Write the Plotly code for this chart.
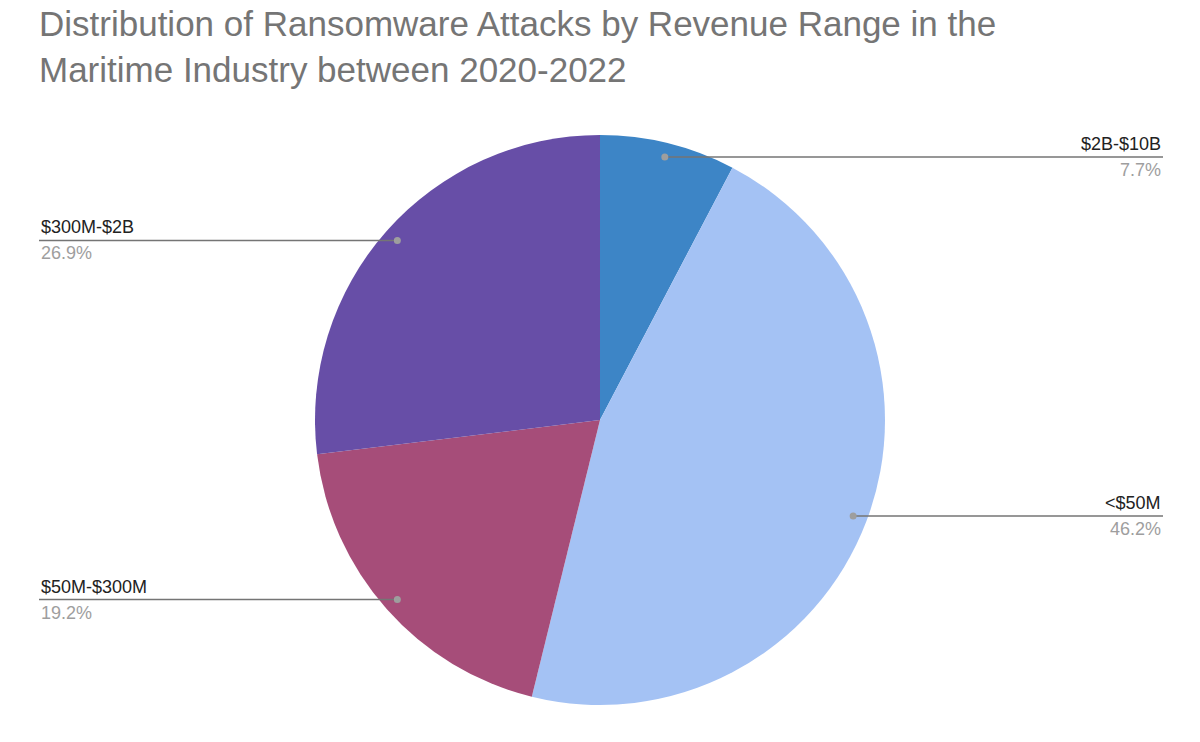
import numpy as np
import plotly.graph_objects as go

labels = ["$2B-$10B", "<$50M", "$50M-$300M", "$300M-$2B"]
values = [2, 12, 5, 7]
colors = ["#3d85c6", "#a4c2f4", "#a64d79", "#674ea7"]

W, H = 1200, 742
cx, cy, R = 592, 412, 285  # pie centre / radius in px (render offsets corrected)

fig = go.Figure(go.Pie(
    labels=labels, values=values, sort=False, direction="clockwise", rotation=0,
    marker=dict(colors=colors), textinfo="none", hoverinfo="label+percent",
    domain=dict(x=[0, cx * 2 / W], y=[(H - cy - R) / H, (H - cy + R) / H]),
))

tot = sum(values)
cum = 0
for lab, v in zip(labels, values):
    mid = (cum + v / 2) / tot * 2 * np.pi
    cum += v
    px = cx + 0.95 * R * np.sin(mid)
    py = cy - 0.95 * R * np.cos(mid)
    right = px > cx
    xe = 1155 if right else 31
    x0, y0 = px / W, 1 - py / H
    xe_p = xe / W
    fig.add_shape(type="line", xref="paper", yref="paper", x0=x0, y0=y0, x1=xe_p, y1=y0,
                  line=dict(color="#757575", width=1.5))
    fig.add_shape(type="circle", xref="paper", yref="paper",
                  x0=x0 - 3.5 / W, x1=x0 + 3.5 / W, y0=y0 - 3.5 / H, y1=y0 + 3.5 / H,
                  fillcolor="#9e9e9e", line=dict(width=0))
    xa = "right" if right else "left"
    fig.add_annotation(x=xe_p, y=y0 + 1 / H, xref="paper", yref="paper", text=lab,
                       showarrow=False, xanchor=xa, yanchor="bottom",
                       font=dict(size=18, color="#222222"))
    fig.add_annotation(x=xe_p, y=y0 - 1 / H, xref="paper", yref="paper",
                       text=f"{v / tot * 100:.1f}%", showarrow=False, xanchor=xa, yanchor="top",
                       font=dict(size=18, color="#9e9e9e"))

fig.update_layout(
    width=W, height=H, showlegend=False, paper_bgcolor="white",
    font=dict(family="Liberation Sans, Arial, sans-serif"),
    margin=dict(l=0, r=0, t=0, b=0),
    title=dict(text="Distribution of Ransomware Attacks by Revenue Range in the<br>Maritime Industry between 2020-2022",
               x=31 / W, xanchor="left", y=1 - 28 / H, yanchor="top",
               font=dict(size=35, color="#757575")),
)
fig.write_html("out.html")
